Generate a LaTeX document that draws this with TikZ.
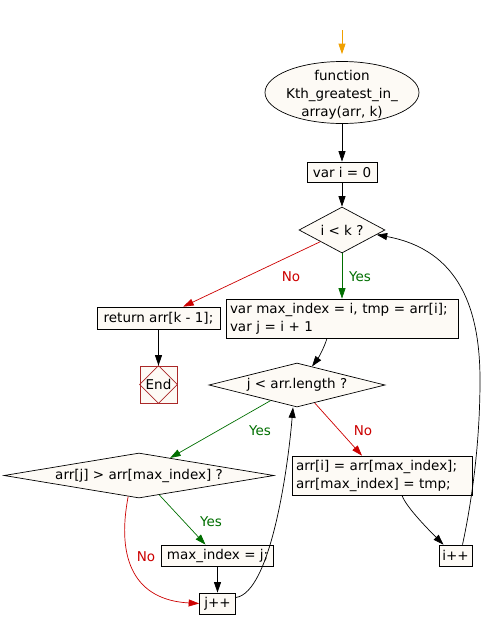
\documentclass[tikz,border=0pt]{standalone}
\usepackage{fontspec}
\setmainfont{DejaVu Sans}
\usetikzlibrary{shapes.geometric,arrows.meta,calc}
\definecolor{fillc}{RGB}{253,250,245}
\definecolor{yesc}{RGB}{0,110,0}
\definecolor{noc}{RGB}{204,0,0}
\definecolor{endc}{RGB}{170,40,40}
\definecolor{startc}{RGB}{240,160,0}
\begin{document}
\begin{tikzpicture}[x=1pt,y=-1pt,font=\fontsize{13.5}{18}\selectfont,
  box/.style={draw, fill=fillc, inner sep=0pt, line width=0.7pt},
  dia/.style={diamond, draw, fill=fillc, inner sep=0pt, line width=0.7pt},
  arr/.style={-{Triangle[length=10.5pt,width=7pt]}, line width=0.7pt},
  lbl/.style={inner sep=0pt}]
\useasboundingbox (0,0) rectangle (486,630);
% nodes
\node[ellipse, draw, fill=fillc, line width=0.7pt, minimum width=154, minimum height=62, inner sep=0pt] (start) at (342,92.5) {};
\node[align=center, inner sep=0pt] (starttxt) at (342,95) {function\\Kth\_greatest\_in\_\\array(arr, k)};
\coordinate (s0) at (342,30);
\node[box, minimum width=70, minimum height=20] (vari) at (342,172) {var i = 0};
\node[dia, aspect=2, minimum width=86, minimum height=46] (d1) at (342,230) {i < k ?};
\node[box, minimum width=123, minimum height=22] (ret) at (158.5,318) {return arr[k - 1];};
\node[box, minimum width=232, minimum height=39, text width=224, align=left, inner xsep=4pt] (mxb) at (342,318.5) {var max\_index = i, tmp = arr[i];\\var j = i + 1};
\node[draw=endc, fill=fillc, line width=0.7pt, minimum size=37, inner sep=0pt] (end) at (158.5,384.5) {End};
\draw[endc, line width=0.7pt] (end.north) -- (end.east) -- (end.south) -- (end.west) -- cycle;
\node[dia, aspect=4.5, minimum width=176, minimum height=44] (d2) at (297,385) {j < arr.length ?};
\node[dia, aspect=6.5, minimum width=270, minimum height=45] (d3) at (139,475.5) {arr[j] > arr[max\_index] ?};
\node[box, minimum width=180, minimum height=39, text width=172, align=left, inner xsep=4pt] (arrb) at (382,475.5) {arr[i] = arr[max\_index];\\arr[max\_index] = tmp;};
\node[box, minimum width=112, minimum height=21] (mxj) at (217.5,555.5) {max\_index = j;};
\node[box, minimum width=36, minimum height=21] (jpp) at (217.5,603.5) {j++};
\node[box, minimum width=33, minimum height=21] (ipp) at (455.5,555.5) {i++};
% labels
\node[lbl, text=noc] (l1) at (291,277) {No};
\node[lbl, text=yesc] (l2) at (360,277) {Yes};
\node[lbl, text=yesc] (l3) at (260,431) {Yes};
\node[lbl, text=noc] (l4) at (363,431) {No};
\node[lbl, text=yesc] (l5) at (211,522) {Yes};
\node[lbl, text=noc] (l6) at (146,557) {No};
% connectors
\draw[arr, startc] (s0) -- ($(start.north)+(0,-7)$);
\draw[arr] (start.south) -- (vari.north);
\draw[arr] (vari.south) -- (d1.north);
\draw[arr, noc] (d1.south west) -- ($(ret.north)!0.4!(ret.north east)$);
\draw[arr, yesc] (d1.south) -- (mxb.north);
\draw[arr] (ret.south) -- (end.north);
\draw[arr] ($(mxb.south)+(-15,0)$) .. controls +(-3,10) and +(6,-8) .. ($(d2.north)!0.17!(d2.east)$);
\draw[arr, yesc] ($(d2.west)!0.7!(d2.south)$) -- ($(d3.north)!0.23!(d3.east)$);
\draw[arr, noc] ($(d2.south)!0.2!(d2.east)$) -- ($(arrb.north)+(-20,0)$);
\draw[arr, yesc] ($(d3.south)!0.15!(d3.east)$) -- ($(mxj.north)+(-12,0)$);
\draw[arr, noc] ($(d3.south)!0.08!(d3.west)$) .. controls (116,560) and (135,600) .. (jpp.west);
\draw[arr] (mxj.south) -- (jpp.north);
\draw[arr] ($(jpp.east)+(0,-6)$) .. controls +(35,-5) and +(-5,60) .. ($(d2.south)+(-4,0)$);
\draw[arr] ($(arrb.south)+(20,0)$) .. controls +(4,12) and +(-12,-12) .. ($(ipp.north)+(-12,0)$);
\draw[arr] ($(ipp.north)+(7,0)$) .. controls (470,510) and (480,450) .. (480,380) .. controls (480,310) and (460,250) .. ($(d1.east)!0.2!(d1.south)$);
\end{tikzpicture}
\end{document}
